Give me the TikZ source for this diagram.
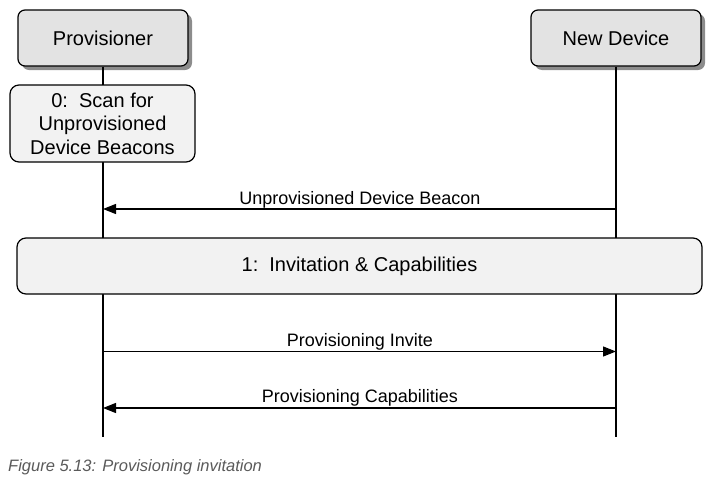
\documentclass[tikz,border=0pt]{standalone}
\usepackage{fontspec}
\setmainfont{Liberation Sans}
\usetikzlibrary{arrows.meta,shadows}
\definecolor{hdrfill}{HTML}{E3E3E3}
\definecolor{actfill}{HTML}{F2F2F2}
\definecolor{capgray}{HTML}{5A5A5A}
\begin{document}
\begin{tikzpicture}[x=1pt,y=-1pt,
  hdr/.style={draw=black,line width=1.2pt,fill=hdrfill,rounded corners=7pt,
    drop shadow={shadow xshift=4pt,shadow yshift=-4pt,fill=black!45,opacity=1},
    minimum width=170pt,minimum height=56pt,inner sep=0pt,font=\fontsize{20}{24}\selectfont},
  act/.style={draw=black,line width=1.2pt,fill=actfill,rounded corners=9pt,inner sep=0pt,
    font=\fontsize{20}{23.5}\selectfont,align=center},
  life/.style={line width=1.2pt},
  msg/.style={line width=1.2pt,-{Triangle[length=13pt,width=10pt]}},
  lbl/.style={anchor=base,inner sep=0pt,font=\fontsize{18}{20}\selectfont}]
\useasboundingbox (0,0) rectangle (726,477);
% headers
\node[hdr] (prov) at (103,38) {Provisioner};
\node[hdr] (dev) at (616,38) {New Device};
% lifelines
\coordinate (provend) at (103,437);
\coordinate (devend) at (616,437);
\draw[life] (prov.south) -- (provend);
\draw[life] (dev.south) -- (devend);
% activity boxes
\node[act,minimum width=185pt,minimum height=77pt] (scan) at (102.5,123.5)
  {0:\ \ Scan for\\Unprovisioned\\Device Beacons};
\node[act,minimum width=685pt,minimum height=56pt] (inv) at (359.5,266)
  {1:\ \ Invitation \& Capabilities};
% messages
\coordinate (b1d) at (616,209);
\coordinate (b1p) at (103,209);
\draw[msg] (b1d) -- (b1p);
\node[lbl] (l1) at (360,204) {Unprovisioned Device Beacon};
\coordinate (b2p) at (103,351.5);
\coordinate (b2d) at (616,351.5);
\draw[msg] (b2p) -- (b2d);
\node[lbl] (l2) at (360,346) {Provisioning Invite};
\coordinate (b3d) at (616,408);
\coordinate (b3p) at (103,408);
\draw[msg] (b3d) -- (b3p);
\node[lbl] (l3) at (360,402.5) {Provisioning Capabilities};
% caption
\node[anchor=base west,inner sep=0pt,text=capgray,font=\fontsize{16.5}{19}\selectfont\itshape] (cap) at (8,471) {Figure 5.13: Provisioning invitation};
\end{tikzpicture}
\end{document}
